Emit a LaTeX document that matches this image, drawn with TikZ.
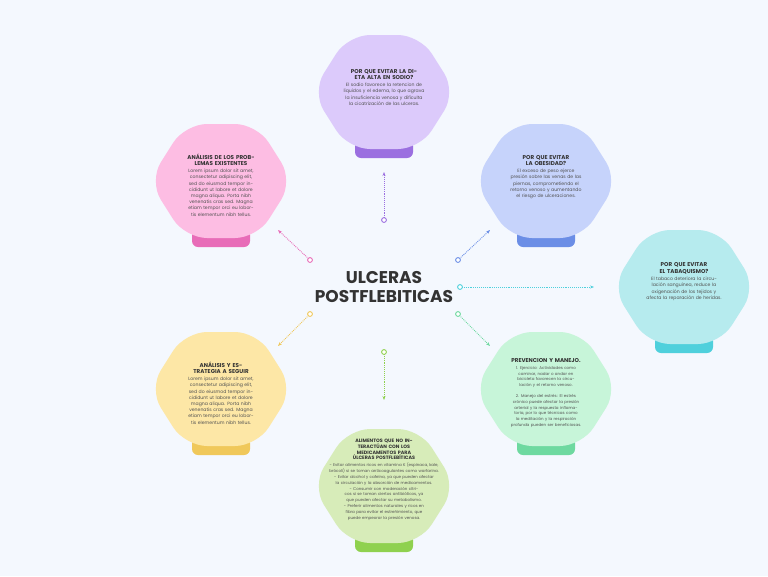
\documentclass[tikz,border=0pt]{standalone}
\usepackage{fontspec}
\setmainfont{Poppins}
\usetikzlibrary{arrows.meta}
\definecolor{bgc}{HTML}{F4F8FE}
\definecolor{purF}{HTML}{DCCAFB}\definecolor{purT}{HTML}{9B6FE0}
\definecolor{pinF}{HTML}{FDBDE3}\definecolor{pinT}{HTML}{E86CB8}
\definecolor{bluF}{HTML}{C6D3FB}\definecolor{bluT}{HTML}{6B8EE6}
\definecolor{cyaF}{HTML}{B6EBEE}\definecolor{cyaT}{HTML}{4FD0DC}
\definecolor{greF}{HTML}{C7F5D9}\definecolor{greT}{HTML}{6ED9A0}
\definecolor{oliF}{HTML}{D7ECB9}\definecolor{oliT}{HTML}{8FD14F}
\definecolor{yelF}{HTML}{FDE7A6}\definecolor{yelT}{HTML}{F0C85A}
\definecolor{txt}{HTML}{333333}
\tikzset{
  hexhead/.style={text width=78pt,align=center,font=\fontsize{5.6}{6.2}\selectfont\bfseries,text=txt,inner sep=0pt},
  hexbody/.style={text width=82pt,align=center,font=\fontsize{4.6}{6.2}\selectfont,text=txt!85,inner sep=0pt},
  link/.style={densely dotted,line width=0.9pt,-{Stealth[length=4pt]}},
}
% hexagon with tab: center, fill, tab colour
\newcommand{\hexat}[3]{%
  \fill[#3,rounded corners=6pt] ($(#1)+(-29,48)$) rectangle ($(#1)+(29,66)$);
  \fill[#2,rounded corners=22pt] ($(#1)+(-72,0)$) -- ($(#1)+(-36,-57)$) -- ($(#1)+(36,-57)$)
     -- ($(#1)+(72,0)$) -- ($(#1)+(36,57)$) -- ($(#1)+(-36,57)$) -- cycle;}
\usetikzlibrary{calc}
\begin{document}
\begin{tikzpicture}[x=1pt,y=-1pt]
\fill[bgc] (0,0) rectangle (768,576);
\useasboundingbox (0,0) rectangle (768,576);
\foreach \n/\x/\y in {T/384/92, LU/221/181, RU/546/181, R/684/287, RL/546/389, B/384/486, LL/221/389}{
  \coordinate (\n) at (\x,\y);
}
\hexat{T}{purF}{purT}
\hexat{LU}{pinF}{pinT}
\hexat{RU}{bluF}{bluT}
\hexat{R}{cyaF}{cyaT}
\hexat{RL}{greF}{greT}
\hexat{B}{oliF}{oliT}
\hexat{LL}{yelF}{yelT}

% title
\node[font=\fontsize{17}{19}\selectfont\bfseries,align=center,text=txt] (title) at (384,287) {ULCERAS\\POSTFLEBITICAS};

% texts
\node[hexhead,anchor=south] (hT) at (384,80) {POR QUE EVITAR LA DIETA ALTA EN SODIO?};
\node[hexbody,anchor=north] (bT) at (384,83) {El sodio favorece la retencion de liquidos y el edema, lo que agrava la insuficiencia venosa y dificulta la cicatrización de las ulceras.};
\node[hexhead,anchor=south] (hLU) at (221,166) {ANÁLISIS DE LOS PROBLEMAS EXISTENTES};
\node[hexbody,anchor=north,text width=72pt] (bLU) at (221,169) {Lorem ipsum dolor sit amet, consectetur adipiscing elit, sed do eiusmod tempor incididunt ut labore et dolore magna aliqua. Porta nibh venenatis cras sed. Magna etiam tempor orci eu lobortis elementum nibh tellus.};
\node[hexhead,anchor=south] (hRU) at (546,166) {POR QUE EVITAR LA OBESIDAD?};
\node[hexbody,anchor=north,text width=75pt] (bRU) at (546,169) {El exceso de peso ejerce presión sobre las venas de las piernas, comprometiendo el retorno venoso y aumentando el riesgo de ulceraciones.};
\node[hexhead,anchor=south] (hR) at (684,274) {POR QUE EVITAR EL TABAQUISMO?};
\node[hexbody,anchor=north,text width=88pt] (bR) at (684,277) {El tabaco deteriora la circulación sanguínea, reduce la oxigenación de los tejidos y afecta la reparación de heridas.};
\node[hexhead,anchor=south] (hRL) at (546,363) {PREVENCION Y MANEJO.};
\node[hexbody,anchor=north,text width=72pt,font=\fontsize{4}{5.8}\selectfont] (bRL) at (546,366) {1. Ejercicio: Actividades como caminar, nadar o andar en bicicleta favorecen la circulación y el retorno venoso.\\[5pt]2. Manejo del estrés: El estrés crónico puede afectar la presión arterial y la respuesta inflamatoria, por lo que técnicas como la meditación y la respiración profunda pueden ser beneficiosas.};
\node[hexhead,anchor=south,font=\fontsize{4.8}{5.6}\selectfont\bfseries,text width=70pt] (hB) at (384,460) {ALIMENTOS QUE NO INTERACTÚAN CON LOS MEDICAMENTOS PARA ÚLCERAS POSTFLEBÍTICAS};
\node[hexbody,anchor=north,text width=112pt,font=\fontsize{4}{5.8}\selectfont] (bB) at (384,463) {- Evitar alimentos ricos en vitamina K (espinaca, kale, brócoli) si se toman anticoagulantes como warfarina.\\- Evitar alcohol y cafeína, ya que pueden afectar la circulación y la absorción de medicamentos.\\- Consumir con moderación cítricos si se toman ciertos antibióticos, ya que pueden afectar su metabolismo.\\- Preferir alimentos naturales y ricos en fibra para evitar el estreñimiento, que puede empeorar la presión venosa.};
\node[hexhead,anchor=south] (hLL) at (221,374) {ANÁLISIS Y ESTRATEGIA A SEGUIR};
\node[hexbody,anchor=north,text width=72pt] (bLL) at (221,377) {Lorem ipsum dolor sit amet, consectetur adipiscing elit, sed do eiusmod tempor incididunt ut labore et dolore magna aliqua. Porta nibh venenatis cras sed. Magna etiam tempor orci eu lobortis elementum nibh tellus.};

% connectors
\foreach \a/\ax/\ay/\bx/\by/\c in {
  T/384/220/384/172/purT, LU/310/260/278/230/pinT, RU/458/260/490/230/bluT,
  R/460/287/594/287/cyaT, RL/458/314/490/346/greT, B/384/352/384/400/oliT,
  LL/310/314/278/346/yelT}{
  \coordinate (s\a) at (\ax,\ay);
  \coordinate (e\a) at (\bx,\by);
  \draw[link,\c] (s\a) -- (e\a);
  \draw[\c,fill=white,line width=0.9pt] (s\a) circle (2.4pt);
}
\end{tikzpicture}
\end{document}
